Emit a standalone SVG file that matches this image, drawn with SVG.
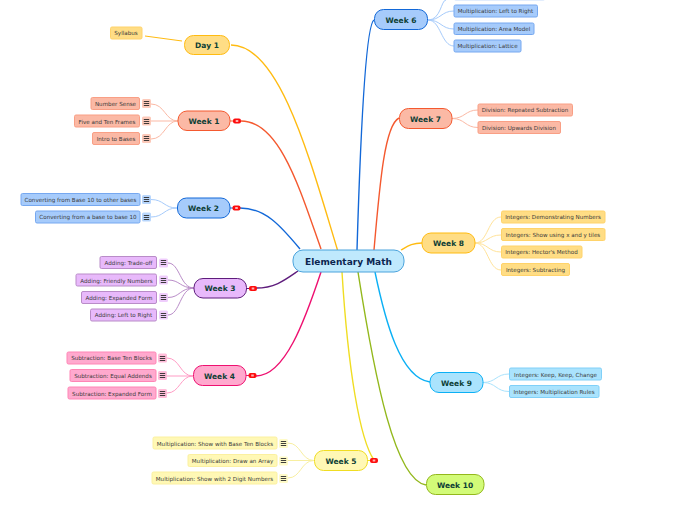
<svg xmlns="http://www.w3.org/2000/svg" width="696" height="520" viewBox="0 0 696 520">
<style>
text{font-family:"DejaVu Sans",Verdana,sans-serif;text-anchor:middle}
.n{font-size:7.5px;font-weight:bold;fill:#0d4035}
.l{font-size:5.6px;fill:#3a3a3a}
.c{fill:none;stroke-width:1.4}
.t{fill:none;stroke-width:1}
.y{fill:#ffdd85;stroke:#ffd36a}
.o{fill:#fbb9a5;stroke:#f99f85}
.b{fill:#a6cbfb;stroke:#76a8f0}
.p{fill:#e8b9fb;stroke:#b98cc8}
.k{fill:#ffa9ce;stroke:#ff85b5}
.w{fill:#fff8b5;stroke:#fbf0a0}
.s{fill:#aae3fd;stroke:#80d0f8}
</style>
<defs>
<g id="m"><rect x="-4" y="-2.500" width="8" height="5" rx="2" fill="#fd0d0d"/><rect x="-1.300" y="-1" width="2.600" height="2" fill="#ffb0b0"/></g>
<g id="ic"><path d="M-2.700,-2H2.700M-2.700,0H2.700M-2.700,2H2.700" stroke="#2a2a2a" stroke-width=".9" fill="none"/></g>
</defs>
<g id="connectors">
<path class="c" stroke="#ffbb11" d="M231,45C280,45 310,160 337.500,250"/>
<path class="c" stroke="#f4592f" d="M241,121C280,121 300,190 321,249"/>
<path class="c" stroke="#1268d8" d="M240,208C265,208 280,225 300,249"/>
<path class="c" stroke="#5e1c7c" d="M256,288C275,288 285,280 298,271"/>
<path class="c" stroke="#ee1070" d="M256,376C285,376 305,320 321,272"/>
<path class="c" stroke="#f0dd22" d="M374,460C360,440 348,370 342,272"/>
<path class="c" stroke="#1268d8" d="M374,20C365,25 360,150 357,250"/>
<path class="c" stroke="#f4592f" d="M399,118C385,125 380,180 374,250"/>
<path class="c" stroke="#ffbb11" d="M422,243C412,243 408,246 401,250"/>
<path class="c" stroke="#0bb0f5" d="M430,382C400,378 385,320 375,272"/>
<path class="c" stroke="#93b81c" d="M426,485C395,480 375,380 358,272"/>
<path class="t" stroke="#ffbb11" d="M182,41L145,36"/>
<g stroke="#fbb9a5"><path class="t" d="M178,121C165,121 165,104 151,104"/><path class="t" d="M178,121H151"/><path class="t" d="M178,121C165,121 165,139 151,139"/></g>
<g stroke="#a6cbfb"><path class="t" d="M177,208C164,208 164,199.500 151,199.500"/><path class="t" d="M177,208C164,208 164,217 151,217"/></g>
<g stroke="#b98cc8"><path class="t" d="M194,288C180,288 180,263 168,263"/><path class="t" d="M194,288C180,288 180,280 168,280"/><path class="t" d="M194,288C180,288 180,297.500 168,297.500"/><path class="t" d="M194,288C180,288 180,315 168,315"/></g>
<g stroke="#ff9cc5"><path class="t" d="M193,376C180,376 180,358 167,358"/><path class="t" d="M193,376H167"/><path class="t" d="M193,376C180,376 180,393 167,393"/></g>
<g stroke="#f8efa0"><path class="t" d="M314,460.500C301,460.500 301,443 288,443"/><path class="t" d="M314,460.500H288"/><path class="t" d="M314,460.500C301,460.500 301,478 288,478"/></g>
<g stroke="#a6cbfb"><path class="t" d="M428,20C441,20 441,0 446,0"/><path class="t" d="M428,20C441,20 441,11 454,11"/><path class="t" d="M428,20C441,20 441,29 454,29"/><path class="t" d="M428,20C441,20 441,46 454,46"/></g>
<g stroke="#fbb9a5"><path class="t" d="M452,118.500C465,118.500 465,110 478,110"/><path class="t" d="M452,118.500C465,118.500 465,127.500 478,127.500"/></g>
<g stroke="#ffe39a"><path class="t" d="M475,243C488,243 488,217 501,217"/><path class="t" d="M475,243C488,243 488,235 501,235"/><path class="t" d="M475,243C488,243 488,252 501,252"/><path class="t" d="M475,243C488,243 488,270 501,270"/></g>
<g stroke="#aae3fd"><path class="t" d="M483,382.500C496,382.500 496,374 509,374"/><path class="t" d="M483,382.500C496,382.500 496,391.500 509,391.500"/></g>
<path stroke="#f4592f" stroke-width="1" d="M230,121h4"/><path stroke="#1268d8" stroke-width="1" d="M230,208h4"/><path stroke="#5e1c7c" stroke-width="1" d="M247,288.500h4"/><path stroke="#ee1070" stroke-width="1" d="M246,375.500h4"/><path stroke="#f0dd22" stroke-width="1" d="M367,460.500h4"/>
</g>
<g id="center"><rect x="293" y="250" width="111" height="22" rx="10" fill="#bfe9fd" stroke="#4aa3dc"/><text x="348.500" y="264.500" font-size="9" font-weight="bold" fill="#0b2550">Elementary Math</text></g>
<g id="day1"><rect x="184.500" y="35.500" width="45" height="19" rx="9" fill="#ffdd85" stroke="#ffbb11"/><text class="n" x="207" y="48">Day 1</text><rect class="y" x="110.500" y="27" width="31.500" height="12" rx="1.500"/><text class="l" x="126" y="35">Syllabus</text></g>
<g id="week1"><rect x="178" y="111" width="52" height="19.500" rx="9" fill="#fbb9a5" stroke="#f4592f"/><text class="n" x="204" y="123.500">Week 1</text><use href="#m" x="237" y="121"/>
<rect class="o" x="91" y="97.500" width="48.500" height="12" rx="1.500"/><text class="l" x="115.500" y="106">Number Sense</text>
<rect class="o" x="74.500" y="115" width="65" height="12" rx="1.500"/><text class="l" x="107" y="123.500">Five and Ten Frames</text>
<rect class="o" x="92.500" y="132.500" width="47" height="12" rx="1.500"/><text class="l" x="116" y="141">Intro to Bases</text>
<rect x="142" y="99" width="9" height="9" rx="1.500" fill="#fcc9b9"/><use href="#ic" x="146.500" y="103.500"/>
<rect x="142" y="116.500" width="9" height="9" rx="1.500" fill="#fcc9b9"/><use href="#ic" x="146.500" y="121.500"/>
<rect x="142" y="134" width="9" height="9" rx="1.500" fill="#fcc9b9"/><use href="#ic" x="146.500" y="138.500"/></g>
<g id="week2"><rect x="177.500" y="198" width="52.500" height="20" rx="9" fill="#a6cbfb" stroke="#1268d8"/><text class="n" x="203.500" y="211">Week 2</text><use href="#m" x="236.500" y="208"/>
<rect class="b" x="21" y="193.500" width="119" height="12" rx="1.500"/><text class="l" x="80.500" y="202">Converting from Base 10 to other bases</text>
<rect class="b" x="35.500" y="211" width="104.500" height="12" rx="1.500"/><text class="l" x="88" y="219">Converting from a base to base 10</text>
<rect x="142" y="195" width="9" height="9" rx="1.500" fill="#b8d6fc"/><use href="#ic" x="146.500" y="199.500"/>
<rect x="142" y="212.500" width="9" height="9" rx="1.500" fill="#b8d6fc"/><use href="#ic" x="146.500" y="217.500"/></g>
<g id="week3"><rect x="194" y="278.500" width="52.500" height="19.500" rx="9" fill="#e8b9fb" stroke="#5e1c7c"/><text class="n" x="220" y="291">Week 3</text><use href="#m" x="253" y="288.500"/>
<rect class="p" x="100" y="256.500" width="56.500" height="12" rx="1.500"/><text class="l" x="128.500" y="265">Adding: Trade-off</text>
<rect class="p" x="76" y="274" width="80.500" height="12" rx="1.500"/><text class="l" x="116.500" y="282.500">Adding: Friendly Numbers</text>
<rect class="p" x="81.500" y="291.500" width="75" height="12" rx="1.500"/><text class="l" x="119" y="300">Adding: Expanded Form</text>
<rect class="p" x="90.500" y="309" width="66" height="12" rx="1.500"/><text class="l" x="123.500" y="317">Adding: Left to Right</text>
<rect x="159" y="258.500" width="9" height="9" rx="1.500" fill="#efcdfc"/><use href="#ic" x="163.500" y="262.500"/>
<rect x="159" y="275.500" width="9" height="9" rx="1.500" fill="#efcdfc"/><use href="#ic" x="163.500" y="280.500"/>
<rect x="159" y="293" width="9" height="9" rx="1.500" fill="#efcdfc"/><use href="#ic" x="163.500" y="297.500"/>
<rect x="159" y="310.500" width="9" height="9" rx="1.500" fill="#efcdfc"/><use href="#ic" x="163.500" y="315.500"/></g>
<g id="week4"><rect x="193.500" y="365.500" width="52.500" height="20" rx="9" fill="#ffa9ce" stroke="#ee1070"/><text class="n" x="219.500" y="378.500">Week 4</text><use href="#m" x="252.500" y="375.500"/>
<rect class="k" x="67" y="352" width="89" height="12" rx="1.500"/><text class="l" x="111.500" y="360">Subtraction: Base Ten Blocks</text>
<rect class="k" x="70" y="369.500" width="86" height="12" rx="1.500"/><text class="l" x="113" y="378">Subtraction: Equal Addends</text>
<rect class="k" x="68" y="387" width="88" height="12" rx="1.500"/><text class="l" x="112" y="395.500">Subtraction: Expanded Form</text>
<rect x="158" y="353.500" width="9" height="9" rx="1.500" fill="#ffbcd9"/><use href="#ic" x="162.500" y="358.500"/>
<rect x="158" y="371" width="9" height="9" rx="1.500" fill="#ffbcd9"/><use href="#ic" x="162.500" y="375.500"/>
<rect x="158" y="389" width="9" height="9" rx="1.500" fill="#ffbcd9"/><use href="#ic" x="162.500" y="393.500"/></g>
<g id="week5"><rect x="314.500" y="450.500" width="53" height="20" rx="9" fill="#fff8b5" stroke="#f0dd22"/><text class="n" x="341" y="463.500">Week 5</text><use href="#m" x="374" y="460.500"/>
<rect class="w" x="153" y="437" width="124" height="12" rx="1.500"/><text class="l" x="215" y="445.500">Multiplication: Show with Base Ten Blocks</text>
<rect class="w" x="188" y="454.500" width="89" height="12" rx="1.500"/><text class="l" x="232.500" y="463">Multiplication: Draw an Array</text>
<rect class="w" x="152" y="472" width="125" height="12" rx="1.500"/><text class="l" x="214.500" y="480.500">Multiplication: Show with 2 Digit Numbers</text>
<rect x="279" y="439" width="9" height="9" rx="1.500" fill="#fffbc8"/><use href="#ic" x="283.500" y="443.500"/>
<rect x="279" y="456.500" width="9" height="9" rx="1.500" fill="#fffbc8"/><use href="#ic" x="283.500" y="460.500"/>
<rect x="279" y="474" width="9" height="9" rx="1.500" fill="#fffbc8"/><use href="#ic" x="283.500" y="478.500"/></g>
<g id="week6"><rect x="374.500" y="9.500" width="53" height="20" rx="9" fill="#a6cbfb" stroke="#1268d8"/><text class="n" x="401" y="22.500">Week 6</text>
<rect class="b" x="454" y="-12" width="91" height="12" rx="1.500" style="stroke:#c5dcfc"/>
<rect class="b" x="454" y="5" width="83.500" height="12" rx="1.500"/><text class="l" x="495.500" y="13">Multiplication: Left to Right</text>
<rect class="b" x="454" y="23" width="80" height="11.500" rx="1.500"/><text class="l" x="494" y="31">Multiplication: Area Model</text>
<rect class="b" x="454" y="40" width="67" height="12" rx="1.500"/><text class="l" x="487.500" y="48">Multiplication: Lattice</text></g>
<g id="week7"><rect x="399.500" y="108.500" width="52.500" height="20" rx="9" fill="#fbb9a5" stroke="#f4592f"/><text class="n" x="425.500" y="121.500">Week 7</text>
<rect class="o" x="478" y="104" width="94.500" height="12" rx="1.500"/><text class="l" x="525" y="112">Division: Repeated Subtraction</text>
<rect class="o" x="478" y="121.500" width="82.500" height="12" rx="1.500"/><text class="l" x="519" y="130">Division: Upwards Division</text></g>
<g id="week8"><rect x="422" y="233" width="53" height="20" rx="9" fill="#ffdd85" stroke="#ffbb11"/><text class="n" x="448.500" y="246">Week 8</text>
<rect class="y" x="501.500" y="211" width="103.500" height="12" rx="1.500"/><text class="l" x="553" y="219">Integers: Demonstrating Numbers</text>
<rect class="y" x="501.500" y="228.500" width="103.500" height="12" rx="1.500"/><text class="l" x="553" y="237">Integers: Show using x and y tiles</text>
<rect class="y" x="501.500" y="246" width="80.500" height="12" rx="1.500"/><text class="l" x="541.500" y="254">Integers: Hector's Method</text>
<rect class="y" x="501.500" y="263.500" width="68" height="12" rx="1.500"/><text class="l" x="535.500" y="272">Integers: Subtracting</text></g>
<g id="week9"><rect x="430" y="372.500" width="53" height="20" rx="9" fill="#aae3fd" stroke="#0bb0f5"/><text class="n" x="456.500" y="385.500">Week 9</text>
<rect class="s" x="509.500" y="368" width="92" height="12" rx="1.500"/><text class="l" x="555.500" y="376.500">Integers: Keep, Keep, Change</text>
<rect class="s" x="509.500" y="385.500" width="89.500" height="12" rx="1.500"/><text class="l" x="554" y="394">Integers: Multiplication Rules</text></g>
<g id="week10"><rect x="426.500" y="474.500" width="57.500" height="20" rx="9" fill="#d2fb78" stroke="#93b81c"/><text class="n" x="455" y="487.500">Week 10</text></g>
</svg>
